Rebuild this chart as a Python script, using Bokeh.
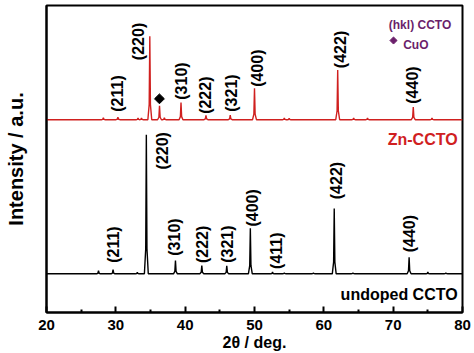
from bokeh.plotting import figure
from bokeh.models import FixedTicker, Label, Range1d, ColumnDataSource
from bokeh.core.properties import value
from bokeh.embed import file_html
from bokeh.resources import INLINE

# ---- data ----
# undoped CCTO pattern: baseline and peaks (2theta, height above baseline)
undoped_base = 12.6
undoped_pos = [27.5, 29.6, 33.1, 34.4, 38.6, 42.4, 46.0, 49.4, 52.6, 54.3, 58.5, 61.5, 64.2, 72.3, 75.0, 77.6]
undoped_h = [1.0, 1.4, 0.5, 45.3, 4.3, 2.7, 2.6, 14.8, 0.6, 0.3, 0.3, 21.3, 0.3, 5.4, 0.6, 0.3]

# Zn-CCTO pattern
zn_base = 62.8
zn_pos = [28.2, 30.3, 33.2, 33.7, 34.9, 36.3, 37.0, 39.4, 43.0, 46.5, 50.0, 54.3, 55.0, 62.0, 64.3, 66.3, 72.9, 75.6]
zn_h = [0.6, 0.8, 0.5, 0.5, 27.2, 4.5, 0.6, 5.6, 1.4, 1.5, 10.2, 0.5, 0.4, 16.2, 0.5, 0.5, 4.1, 0.5]

# reflection labels (text, x, y-bottom)
zn_labels = ["(211)", "(220)", "(310)", "(222)", "(321)", "(400)", "(422)", "(440)"]
zn_label_x = [30.27, 33.3, 39.4, 42.98, 46.66, 50.48, 62.36, 72.74]
zn_label_y = [65.4, 82.2, 69.3, 64.7, 65.4, 73.5, 79.6, 68.0]

undoped_labels = ["(211)", "(220)", "(310)", "(222)", "(321)", "(400)", "(411)", "(422)", "(440)"]
undoped_label_x = [29.72, 36.67, 38.44, 42.43, 46.04, 49.76, 53.14, 61.89, 72.32]
undoped_label_y = [16.2, 46.6, 18.5, 16.1, 16.2, 28.0, 14.2, 36.9, 19.6]

cuo_x = [36.29]
cuo_y = [69.6]

x_ticks = [20, 30, 40, 50, 60, 70, 80]
x_minor = [25, 35, 45, 55, 65, 75]

RED = "#d0201f"
PURPLE = "#6b1f6b"
FONT = "Liberation Sans"


def profile(base, pos, h, x0=20.0, x1=80.0):
    xs = [x0]
    ys = [base]
    for p, hh in zip(pos, h):
        xs += [p - 0.28, p - 0.09, p, p + 0.09, p + 0.28]
        ys += [base, base + 0.18 * hh, base + hh, base + 0.18 * hh, base]
    xs.append(x1)
    ys.append(base)
    return xs, ys


p = figure(width=474, height=353, output_backend="svg", toolbar_location=None,
           x_range=Range1d(20, 80), y_range=Range1d(0, 100),
           min_border_left=46, min_border_right=12, min_border_top=5, min_border_bottom=39)

p.grid.visible = False
p.background_fill_color = "white"
p.border_fill_color = "white"
p.outline_line_color = "black"
p.outline_line_width = 2

ux, uy = profile(undoped_base, undoped_pos, undoped_h)
zx, zy = profile(zn_base, zn_pos, zn_h)
p.line(ux, uy, line_color="black", line_width=1.4)
p.line(zx, zy, line_color=RED, line_width=1.4)

src_z = ColumnDataSource(dict(x=zn_label_x, y=zn_label_y, t=zn_labels))
src_u = ColumnDataSource(dict(x=undoped_label_x, y=undoped_label_y, t=undoped_labels))
for src in (src_z, src_u):
    p.text(x="x", y="y", text="t", source=src, angle=1.5708, text_align="left",
           text_baseline="middle", text_font=value(FONT), text_font_style="bold",
           text_font_size="16px", text_color="black")

p.scatter(cuo_x, cuo_y, marker="square", angle=0.7854, size=7, color="black")

# legend-like texts
p.add_layout(Label(x=69.37, y=93.6, text="(hkl) CCTO", text_font=FONT, text_font_style="bold",
                   text_font_size="12px", text_color=PURPLE, text_baseline="alphabetic"))
p.scatter([70.05], [88.6], marker="square", angle=0.7854, size=5, color=PURPLE)
p.add_layout(Label(x=71.44, y=87.2, text="CuO", text_font=FONT, text_font_style="bold",
                   text_font_size="12px", text_color=PURPLE, text_baseline="alphabetic"))

p.add_layout(Label(x=79.3, y=56.2, text="Zn-CCTO", text_font=FONT, text_font_style="bold",
                   text_font_size="16px", text_color=RED, text_align="right",
                   text_baseline="alphabetic"))
p.add_layout(Label(x=79.3, y=5.9, text="undoped CCTO", text_font=FONT, text_font_style="bold",
                   text_font_size="16px", text_color="black", text_align="right",
                   text_baseline="alphabetic"))

# axes
xa = p.xaxis[0]
xa.ticker = FixedTicker(ticks=x_ticks, minor_ticks=x_minor)
xa.major_tick_in = 6
xa.major_tick_out = 0
xa.minor_tick_in = 3
xa.minor_tick_out = 0
xa.major_tick_line_width = 2
xa.minor_tick_line_width = 2
xa.axis_line_width = 2
xa.major_label_text_font = FONT
xa.major_label_text_font_style = "bold"
xa.major_label_text_font_size = "15px"
xa.major_label_text_color = "black"
xa.major_label_standoff = 7
xa.axis_label = "2θ / deg."
xa.axis_label_text_font = FONT
xa.axis_label_text_font_style = "bold"
xa.axis_label_text_font_size = "16px"
xa.axis_label_text_color = "black"
xa.axis_label_standoff = 1

ya = p.yaxis[0]
ya.ticker = FixedTicker(ticks=[])
ya.major_tick_in = 0
ya.major_tick_out = 0
ya.minor_tick_in = 0
ya.minor_tick_out = 0
ya.axis_line_width = 2
ya.axis_label = "Intensity / a.u."
ya.axis_label_text_font = FONT
ya.axis_label_text_font_style = "bold"
ya.axis_label_text_font_size = "20px"
ya.axis_label_text_color = "black"
ya.axis_label_standoff = 20

open("out.html", "w").write(file_html(p, INLINE))
